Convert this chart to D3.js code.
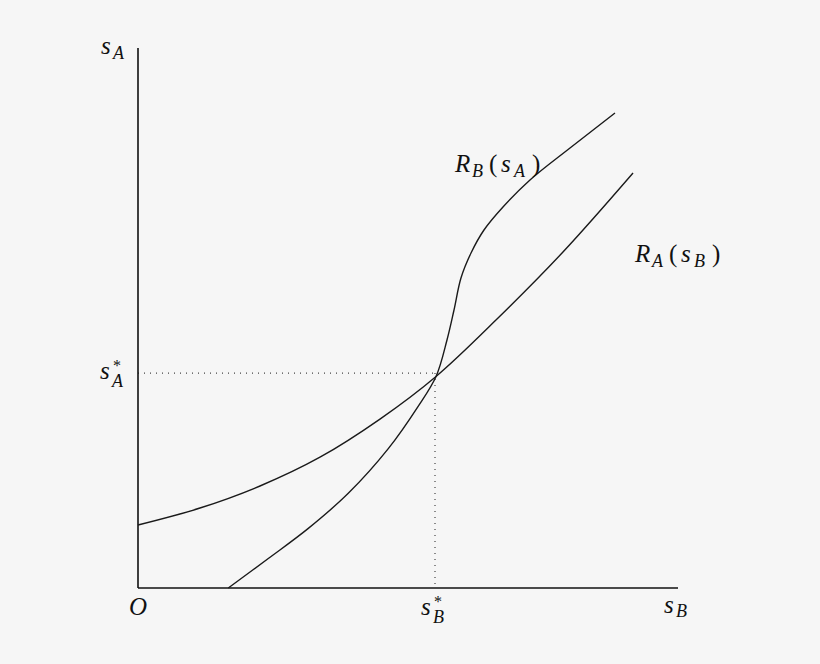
<!DOCTYPE html>
<html><head><meta charset="utf-8">
<script src="https://cdn.jsdelivr.net/npm/d3@7"></script>
<style>
body{margin:0;background:#f6f6f6;}
svg{display:block;}
</style></head>
<body>
<script>
// Data (model units, 0..10 on both axes)
const raSB = [0, 1.148, 2.259, 3.370, 4.481, 5.519, 6.648, 7.870, 9.167];
const raSA = [1.167, 1.481, 1.889, 2.422, 3.128, 3.917, 4.981, 6.222, 7.685];
const rbSB = [1.672, 2.413, 3.154, 3.894, 4.635, 5.191, 5.519, 5.722, 5.852, 5.981, 6.167, 6.407, 6.759, 7.259, 8.0, 8.833];
const rbSA = [0, 0.546, 1.104, 1.754, 2.581, 3.369, 3.917, 4.593, 5.148, 5.741, 6.204, 6.630, 7.056, 7.556, 8.148, 8.796];
const eqSB = 5.5, eqSA = 3.98;
const axisMax = 10;

const W = 820, H = 664;
const FONT = "'Liberation Serif', 'DejaVu Serif', 'Times New Roman', serif";
const svg = d3.select("body").append("svg").attr("width", W).attr("height", H);
svg.append("rect").attr("width", W).attr("height", H).attr("fill", "#f6f6f6");

const x = d3.scaleLinear().domain([0, axisMax]).range([138, 678]);
const y = d3.scaleLinear().domain([0, axisMax]).range([588, 48]);

// dotted guides
svg.append("line").attr("x1", x(0)).attr("x2", x(eqSB)).attr("y1", y(eqSA)).attr("y2", y(eqSA))
  .attr("stroke", "#444").attr("stroke-width", 1.2).attr("stroke-dasharray", "1,5");
svg.append("line").attr("x1", x(eqSB)).attr("x2", x(eqSB)).attr("y1", y(eqSA)).attr("y2", y(0))
  .attr("stroke", "#444").attr("stroke-width", 1.2).attr("stroke-dasharray", "1,5");

// axes
svg.append("line").attr("x1", x(0)).attr("x2", x(0)).attr("y1", y(0)).attr("y2", y(axisMax))
  .attr("stroke", "#111").attr("stroke-width", 1.6);
svg.append("line").attr("x1", x(0)).attr("x2", x(axisMax)).attr("y1", y(0)).attr("y2", y(0))
  .attr("stroke", "#111").attr("stroke-width", 1.6);

const line = d3.line().x(d => x(d[0])).y(d => y(d[1])).curve(d3.curveCatmullRom.alpha(0.5));
svg.append("path").attr("d", line(raSB.map((v, i) => [v, raSA[i]])))
  .attr("fill", "none").attr("stroke", "#1a1a1a").attr("stroke-width", 1.4);
svg.append("path").attr("d", line(rbSB.map((v, i) => [v, rbSA[i]])))
  .attr("fill", "none").attr("stroke", "#1a1a1a").attr("stroke-width", 1.4);

// labels: each glyph group placed individually
function label(parts) {
  const t = svg.append("text").attr("font-family", FONT).attr("fill", "#111");
  parts.forEach(p => {
    t.append("tspan").text(p.t)
      .attr("x", p.x).attr("y", p.y)
      .attr("font-family", FONT)
      .attr("font-style", p.it === false ? "normal" : "italic")
      .attr("font-size", p.fs || 25);
  });
}
const SUB = 18, STAR = 16;
label([{t: "s", x: 101, y: 54}, {t: "A", x: 113, y: 59, fs: SUB}]);
label([{t: "s", x: 100, y: 379}, {t: "*", x: 113, y: 371, fs: STAR, it: false}, {t: "A", x: 112, y: 387, fs: SUB}]);
label([{t: "O", x: 129, y: 615}]);
label([{t: "s", x: 421, y: 615}, {t: "*", x: 434, y: 607, fs: STAR, it: false}, {t: "B", x: 433, y: 623, fs: SUB}]);
label([{t: "s", x: 664, y: 613}, {t: "B", x: 676, y: 617, fs: SUB}]);
label([{t: "R", x: 455, y: 172}, {t: "B", x: 472, y: 177, fs: SUB}, {t: "(", x: 489, y: 172, it: false},
       {t: "s", x: 501, y: 172}, {t: "A", x: 514, y: 177, fs: SUB}, {t: ")", x: 532, y: 172, it: false}]);
label([{t: "R", x: 635, y: 262}, {t: "A", x: 652, y: 267, fs: SUB}, {t: "(", x: 669, y: 262, it: false},
       {t: "s", x: 681, y: 262}, {t: "B", x: 694, y: 267, fs: SUB}, {t: ")", x: 712, y: 262, it: false}]);
</script>
</body></html>
